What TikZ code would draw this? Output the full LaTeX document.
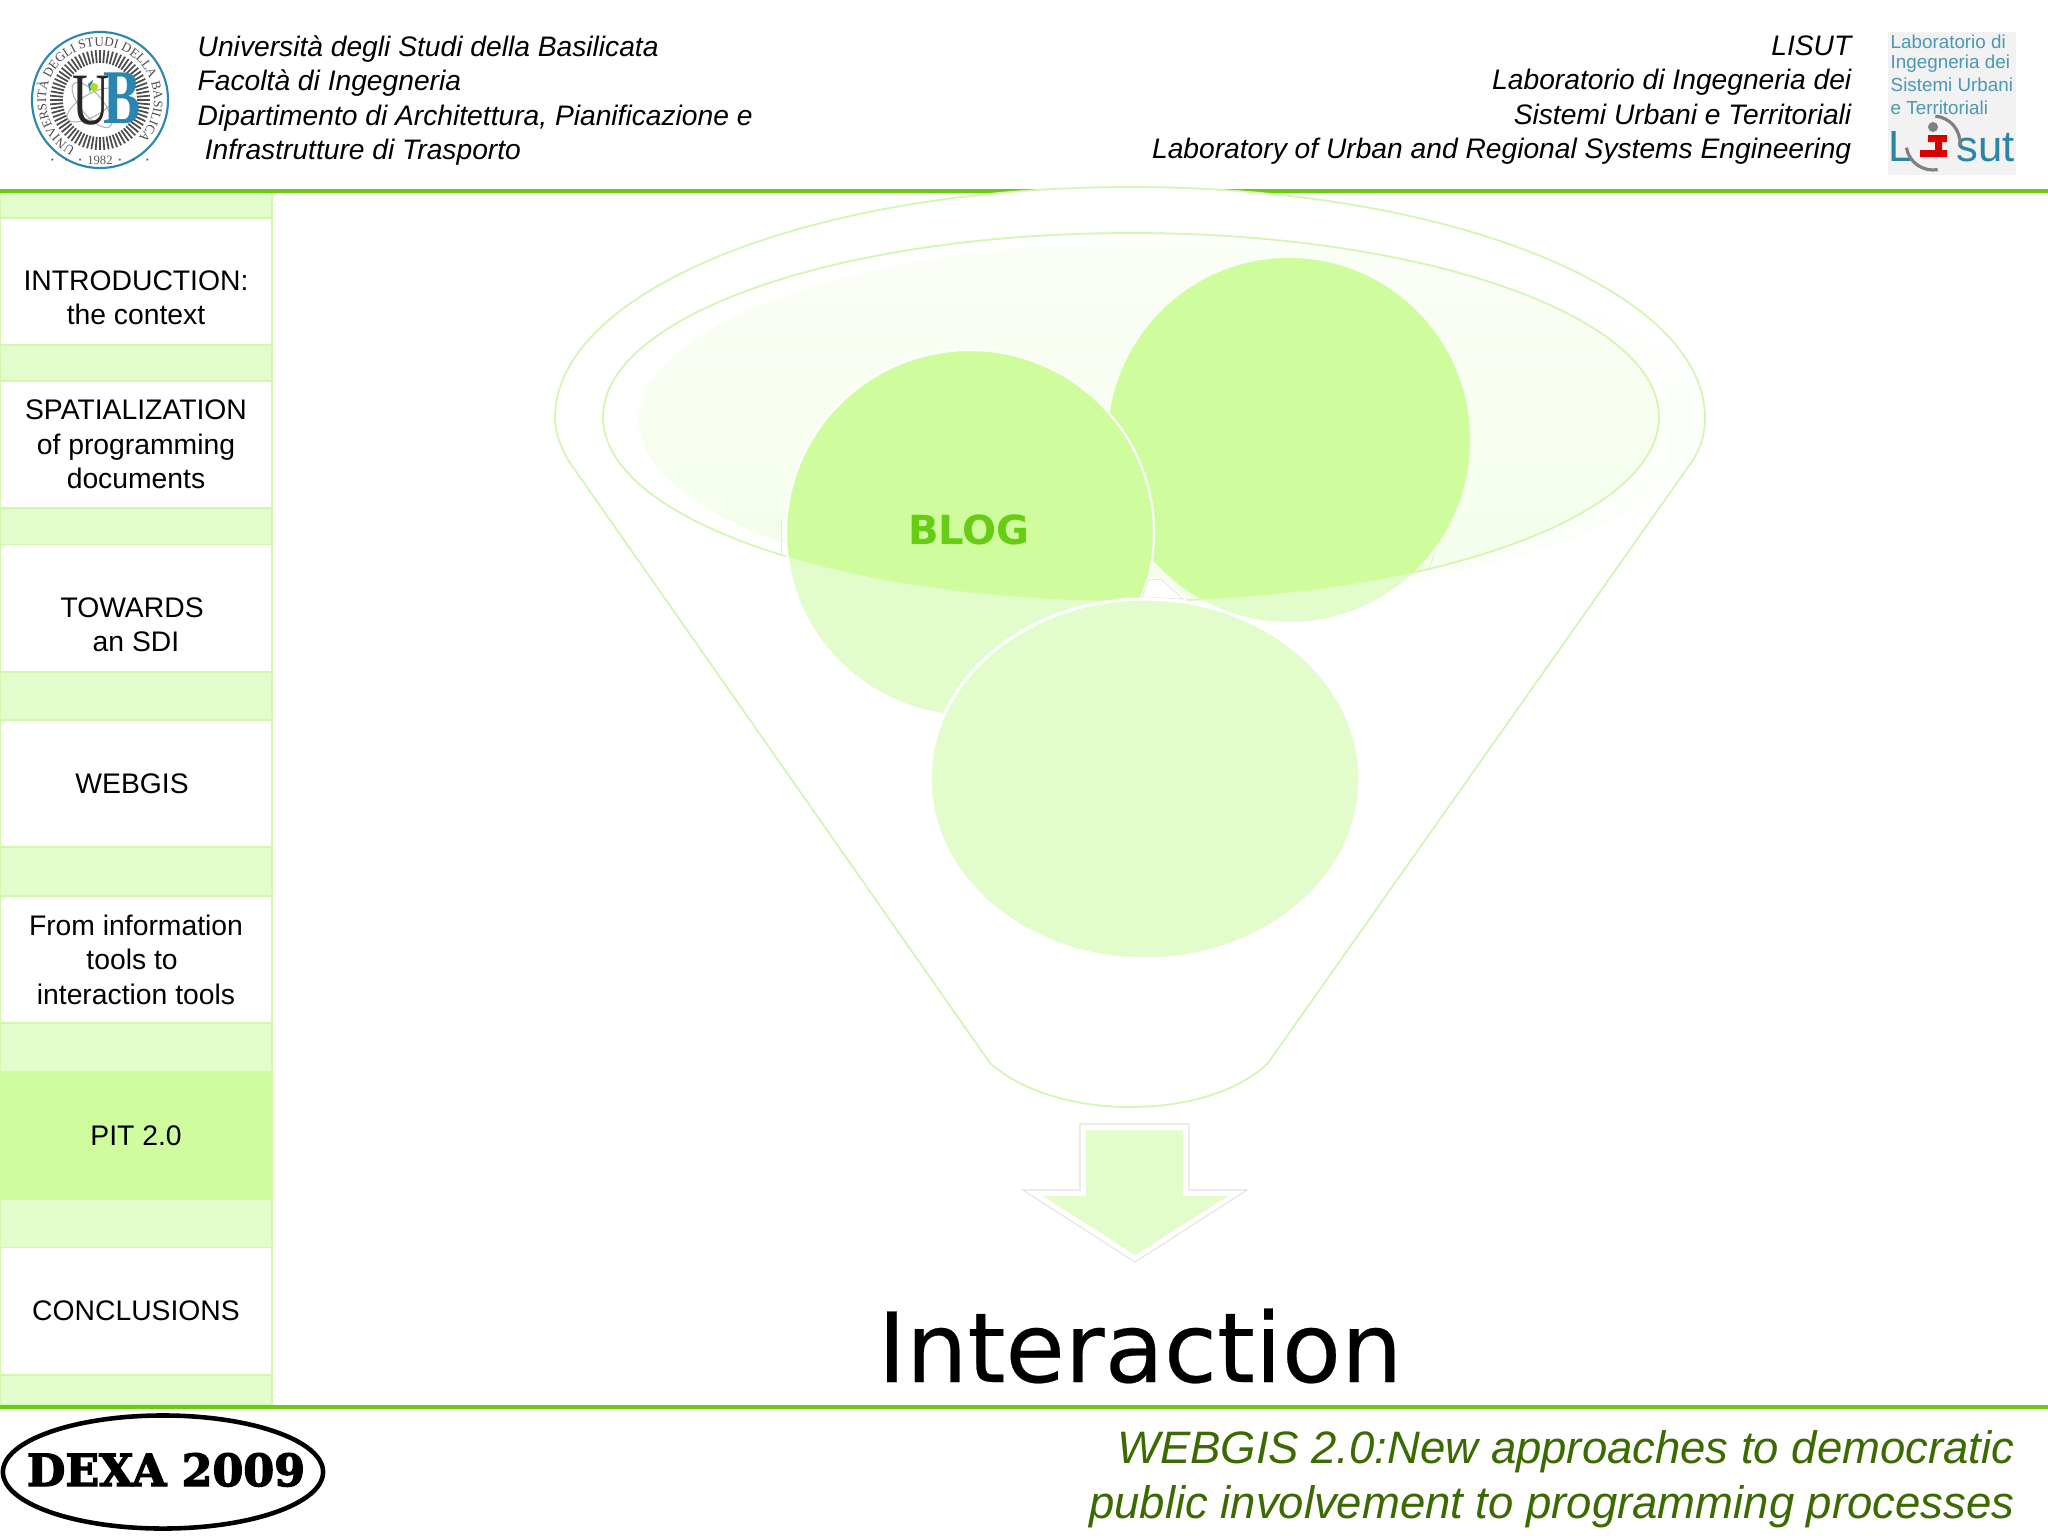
\documentclass[tikz,border=0pt]{standalone}
\usepackage{fontspec}
\setmainfont{Liberation Sans}
\newfontfamily\dejasans{DejaVu Sans}
\newfontfamily\dejaheavy[FakeBold=0.25]{DejaVu Sans}
\newfontfamily\dejaserif[FakeBold=3]{DejaVu Serif Bold}
\newfontfamily\libserif{Liberation Serif}
\usetikzlibrary{arrows.meta,positioning,calc,decorations.text,shapes.geometric}
\definecolor{linegreen}{HTML}{66CC14}
\definecolor{bandgreen}{HTML}{E3FCCB}
\definecolor{edgegreen}{HTML}{D3F6B2}
\definecolor{activegreen}{HTML}{CFFD9E}
\definecolor{titlegreen}{HTML}{3B6B00}
\definecolor{ubblue}{HTML}{2A86B0}
\definecolor{lisutblue}{HTML}{2A86A6}

\begin{document}
\begin{tikzpicture}[
  x=0.01cm, y=-0.01cm,
  sidebox/.style={draw=edgegreen, line width=0.55pt, fill=white, minimum width=2.72cm,
    minimum height=1.27cm, inner sep=0pt, align=center, font=\fontsize{8.05}{9.8}\selectfont},
  headtext/.style={inner sep=0pt, font=\fontsize{8.02}{9.8}\selectfont\itshape},
  labtext/.style={anchor=west, inner sep=0pt, text=lisutblue!85, font=\fontsize{5.35}{6}\selectfont},
  bigtext/.style={anchor=base west, inner sep=0pt, text=lisutblue, font=\fontsize{12.4}{13}\selectfont},
  rule/.style={linegreen, line width=0.9pt},
  funnel/.style={draw=edgegreen, line width=0.5pt, fill=white}
]
\useasboundingbox (0,0) rectangle (2048,1536);
\fill[white] (0,0) rectangle (2048,1536);

% header and footer rules
\draw[rule] (0,191) -- (2048,191);
\draw[edgegreen, line width=0.5pt] (0,193.5) -- (2048,193.5);
\draw[rule, line width=1.2pt] (0,1407) -- (2048,1407);

% side menu
\node[fill=bandgreen, draw=edgegreen, line width=0.4pt, minimum width=2.72cm, minimum height=12.1cm, inner sep=0pt] (band) at (136,799) {};
\node[sidebox] (intro) at (136,281.5) {\mbox{}\\[5.2pt]INTRODUCTION:\\the context};
\node[sidebox] (spatial) at (136,444.5) {SPATIALIZATION\\of programming\\documents};
\node[sidebox] (sdi) at (136,608) {\mbox{}\\[5.2pt]\mbox{TOWARDS\ }\\an SDI};
\node[sidebox] (webgis) at (136,783.5) {\mbox{WEBGIS\ }};
\node[sidebox] (tools) at (136,959.5) {From information\\\mbox{tools to\ }\\interaction tools};
\node[sidebox, fill=activegreen, draw=activegreen] (pit) at (136,1135.5) {PIT 2.0};
\node[sidebox] (concl) at (136,1311) {CONCLUSIONS};

% funnel
\draw[funnel] (568,460) .. controls (560,445) and (555,432) .. (555,418)
  .. controls (555,290) and (812,187) .. (1130,187)
  .. controls (1448,187) and (1705,290) .. (1705,418)
  .. controls (1705,432) and (1702,445) .. (1693,460)
  -- (1268,1063) .. controls (1240,1090) and (1190,1107) .. (1130,1107)
  .. controls (1072,1107) and (1020,1090) .. (990,1063) -- cycle;
\shade[top color=white, bottom color=bandgreen!14] (1171,420) ellipse [x radius=532, y radius=180];
\begin{scope}
  \clip (1171,420) ellipse [x radius=532, y radius=180];
  \shade[top color=bandgreen!15, bottom color=bandgreen!40] (1131,417) ellipse [x radius=528, y radius=184];
\end{scope}
\draw[draw=edgegreen, line width=0.5pt] (1131,417) ellipse [x radius=528, y radius=184];
\draw[gray!18, line width=0.25pt] (781,520) -- (781,555);
\draw[gray!18, line width=0.25pt] (1435,553) -- (1429,568);

% the three discs
\fill[bandgreen] (1289,440) ellipse [x radius=181, y radius=182];
\draw[white, line width=0.6pt, fill=bandgreen] (970,533) ellipse [x radius=184, y radius=183];
\begin{scope}
  \clip (1131,417) ellipse [x radius=528, y radius=184];
  \fill[activegreen] (1289,440) ellipse [x radius=181, y radius=182];
  \draw[white, line width=0.6pt, fill=activegreen] (970,533) ellipse [x radius=184, y radius=183];
\end{scope}
\draw[white, line width=0.9pt, fill=white] (1148,580) -- (1142,597) -- (1183,599) -- (1161,579) -- cycle;
\draw[gray!25, line width=0.2pt] (1148,580) -- (1142,597) -- (1183,599) -- (1161,579) -- cycle;
\draw[white, line width=0.9pt, fill=bandgreen] (1145,779) ellipse [x radius=215, y radius=180];
\node[inner sep=0pt, text=linegreen, font=\dejasans\fontsize{11.4}{12}\selectfont\bfseries] (blog) at (969,530) {BLOG};

% down arrow
\draw[gray!22, line width=0.3pt] (1080,1124) -- (1189,1124) -- (1189,1190) -- (1247,1190) -- (1135,1262)
  -- (1023,1190) -- (1080,1190) -- cycle;
\fill[bandgreen] (1086,1130) -- (1183,1130) -- (1183,1196) -- (1228,1196) -- (1135,1255)
  -- (1043,1196) -- (1086,1196) -- cycle;
\node[anchor=base, inner sep=0pt, font=\dejaheavy\fontsize{27.5}{30}\selectfont] (result) at (1140,1382) {Interaction};

% header texts
\node[headtext, anchor=north west, align=left] (univ) at (197,35) {Università degli Studi della Basilicata\\Facoltà di Ingegneria\\Dipartimento di Architettura, Pianificazione e\\\hspace*{0.25em}Infrastrutture di Trasporto};
\node[headtext, anchor=north east, align=right] (lab) at (1852,35) {LISUT\\Laboratorio di Ingegneria dei\\Sistemi Urbani e Territoriali\\Laboratory of Urban and Regional Systems Engineering};

% university seal
\node[circle, draw=ubblue, line width=0.6pt, fill=white, minimum size=1.36cm, inner sep=0pt] (seal) at (100,100) {};
\foreach \a in {0,5,...,355}
  \draw[black!70, line width=0.5pt] ([shift={(\a:37)}]seal.center) -- ([shift={(\a:50)}]seal.center);
\begin{scope}[shift={(100,100)}, y=0.01cm]
  \path[decorate, decoration={text along path, text align=center,
    text={|\libserif\fontsize{3.7}{4}\selectfont\color{black!70}|UNIVERSITÀ DEGLI STUDI DELLA BASILICATA}}]
    (225:54) arc[start angle=225, end angle=-45, radius=54];
\end{scope}
\node[inner sep=0pt, text=black!65, font=\libserif\fontsize{3.6}{4}\selectfont] (year) at (100,160) {$\cdot\cdot\cdot$ 1982 $\cdot\cdot\cdot$};
\draw[gray!60, line width=0.3pt, rotate around={30:(92,105)}] (92,105) ellipse [x radius=28, y radius=11];
\draw[gray!60, line width=0.3pt, rotate around={-50:(92,105)}] (92,105) ellipse [x radius=28, y radius=11];
\node[inner sep=0pt, text=black!85, font=\libserif\fontsize{21}{22}\selectfont] (ubu) at (91,101) {\scalebox{0.7}[1]{U}};
\node[inner sep=0pt, text=ubblue, font=\bfseries\libserif\fontsize{22}{22}\selectfont] (ubb) at (122,98) {\scalebox{0.72}[1]{B}};
\fill[ubblue] (88,84) -- (93,80) -- (90,93) -- cycle;
\fill[yellow!70!green] (94,87) circle [radius=4];

% lisut logo
\node[fill=black!5, minimum width=1.28cm, minimum height=1.43cm, inner sep=0pt] (lisut) at (1952,103.5) {};
\node[labtext] (lab1) at (1890,42) {Laboratorio di};
\node[labtext] (lab2) at (1890,64) {Ingegneria dei};
\node[labtext] (lab3) at (1890,85) {Sistemi Urbani};
\node[labtext] (lab4) at (1890,108) {e Territoriali};
\node[bigtext] (lisl) at (1888,161) {L};
\node[bigtext] (lisu) at (1956,161) {sut};
\fill[red!85!black] (1928,135) rectangle (1947,142) (1935,142) rectangle (1942,150) (1920,150) rectangle (1947,157);
\fill[gray] (1933,127) circle [radius=5];
\begin{scope}[shift={(1933,143)}, y=0.01cm]
  \draw[gray, line width=0.9pt] (85:27) arc[start angle=85, end angle=-5, radius=27];
  \draw[gray, line width=0.9pt] (190:27) arc[start angle=190, end angle=280, radius=27];
\end{scope}

% footer
\node[ellipse, draw=black, line width=1.3pt, minimum width=3.2cm, minimum height=1.13cm, inner sep=0pt] (dexa) at (163,1472) {};
\node[anchor=base, inner sep=0pt, font=\dejaserif\fontsize{12.6}{13}\selectfont] (dexat) at (166,1486) {DEXA 2009};
\node[anchor=south east, align=right, inner sep=0pt, text=titlegreen, font=\fontsize{12.93}{15.7}\selectfont\itshape] (title) at (2015,1529) {WEBGIS 2.0:New approaches to democratic\\public involvement to programming processes};
\end{tikzpicture}
\end{document}
